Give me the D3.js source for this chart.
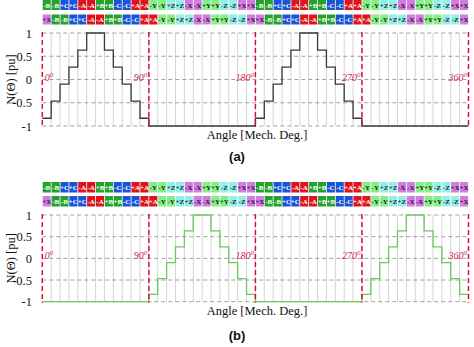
<!DOCTYPE html>
<html><head><meta charset="utf-8">
<script src="https://cdn.jsdelivr.net/npm/d3@7"></script>
<style>html,body{margin:0;padding:0;background:#fff;}svg{display:block;}</style>
</head><body>
<script>
// ---- data ----
const coilRow1 = ["-B","-B","+C","+C","-A","-A","+B","+B","-C","-C","+A","+A","-Y","-Y","+Z","+Z","-X","-X","+Y","+Y","-Z","-Z","+X","+X",
                  "-B","-B","+C","+C","-A","-A","+B","+B","-C","-C","+A","+A","-Y","-Y","+Z","+Z","-X","-X","+Y","+Y","-Z","-Z","+X","+X"];
const coilRow2 = ["+X","-B","-B","+C","+C","-A","-A","+B","+B","-C","-C","+A","+A","-Y","-Y","+Z","+Z","-X","-X","+Y","+Y","-Z","-Z","+X",
                  "+X","-B","-B","+C","+C","-A","-A","+B","+B","-C","-C","+A","+A","-Y","-Y","+Z","+Z","-X","-X","+Y","+Y","-Z","-Z","+X"];
const windingA = [-0.833,-0.467,-0.1,0.267,0.633,1,1,0.633,0.267,-0.1,-0.467,-0.833,
                  -1,-1,-1,-1,-1,-1,-1,-1,-1,-1,-1,-1,
                  -0.833,-0.467,-0.1,0.267,0.633,1,1,0.633,0.267,-0.1,-0.467,-0.833,
                  -1,-1,-1,-1,-1,-1,-1,-1,-1,-1,-1,-1];
const windingB = [-1,-1,-1,-1,-1,-1,-1,-1,-1,-1,-1,-1,
                  -0.833,-0.467,-0.1,0.267,0.633,1,1,0.633,0.267,-0.1,-0.467,-0.833,
                  -1,-1,-1,-1,-1,-1,-1,-1,-1,-1,-1,-1,
                  -0.833,-0.467,-0.1,0.267,0.633,1,1,0.633,0.267,-0.1,-0.467,-0.833];
const yTicks = [1,0.5,0,-0.5,-1];
const angleMarks = [0,90,180,270,360];
const angleLabels = ["0","90","180","270","360"];
const panelLabels = ["(a)","(b)"];
const yTitle = "N(\u0398) [pu]";
const xTitle = "Angle [Mech. Deg.]";

const phaseColor = {A:"#dc141c", B:"#24a22c", C:"#1a55d6", X:"#d47ae4", Y:"#84f084", Z:"#92f0e8"};
const phaseText = {A:"#fff", B:"#fff", C:"#fff", X:"#222", Y:"#222", Z:"#222"};

const W = 474, H = 347;
const svg = d3.select("body").append("svg").attr("width", W).attr("height", H);

const x = d3.scaleLinear().domain([0, 48]).range([42.3, 468.5]);
const xDeg = d3.scaleLinear().domain([0, 360]).range([42.3, 468.5]);
const slotW = x(1) - x(0);

function panel(cfg) {
  const g = svg.append("g");
  const y = d3.scaleLinear().domain([-1, 1]).range([cfg.bottom, cfg.top]);

  // coil rows
  [[coilRow1, cfg.row1], [coilRow2, cfg.row2]].forEach(([row, ry]) => {
    const cells = g.append("g").selectAll("g").data(row).join("g")
      .attr("transform", (d, i) => `translate(${x(i)},${ry})`);
    cells.append("rect").attr("x", 0.4).attr("y", 0).attr("width", slotW - 0.8).attr("height", cfg.rowH)
      .attr("fill", d => phaseColor[d[1]]);
    cells.append("text").attr("x", slotW / 2).attr("y", cfg.rowH / 2 + 2.5)
      .attr("text-anchor", "middle").attr("font-family", "Liberation Serif, serif")
      .attr("font-weight", "bold").attr("font-size", 7).attr("fill", d => phaseText[d[1]])
      .text(d => d);
  });

  // vertical slot gridlines
  g.append("g").selectAll("line").data(d3.range(1, 48)).join("line")
    .attr("x1", d => x(d)).attr("x2", d => x(d)).attr("y1", y(1)).attr("y2", y(-1))
    .attr("stroke", "#cfcfcf").attr("stroke-width", 0.9);

  // horizontal dashed gridlines
  g.append("g").selectAll("line").data(yTicks).join("line")
    .attr("x1", x(0)).attr("x2", x(48)).attr("y1", d => y(d)).attr("y2", d => y(d))
    .attr("stroke", "#8a8a8a").attr("stroke-width", 0.8).attr("stroke-dasharray", "4,3");

  // y axis labels
  const ax = g.append("g").attr("transform", `translate(32,0)`)
    .call(d3.axisLeft(y).tickValues(yTicks).tickSize(0).tickPadding(0).tickFormat(d => String(d)));
  ax.select(".domain").remove();
  ax.selectAll("text").attr("font-family", "Liberation Serif, serif").attr("font-size", 12.5).attr("fill", "#111");

  // y title
  g.append("text").attr("transform", `translate(15,${(cfg.top + cfg.bottom) / 2}) rotate(-90)`)
    .attr("text-anchor", "middle").attr("font-family", "Liberation Serif, serif").attr("font-size", 12.5)
    .attr("fill", "#111").text(yTitle);

  // step line
  const pts = cfg.values.map((v, i) => [i, v]);
  pts.push([48, cfg.values[47]]);
  g.append("path").datum(pts)
    .attr("d", d3.line().x(d => x(d[0])).y(d => y(d[1])).curve(d3.curveStepAfter))
    .attr("fill", "none").attr("stroke", cfg.lineColor).attr("stroke-width", 1.3);

  // red dashed angle markers
  g.append("g").selectAll("line").data(angleMarks).join("line")
    .attr("x1", d => xDeg(d)).attr("x2", d => xDeg(d)).attr("y1", y(1) - 1).attr("y2", y(-1) + 1)
    .attr("stroke", "#dc1030").attr("stroke-width", 1.5).attr("stroke-dasharray", "5,3");

  // angle labels
  const lab = g.append("g").selectAll("text").data(angleMarks).join("text")
    .attr("x", (d, i) => i === 0 ? xDeg(d) + 2.5 : xDeg(d) - 1.5)
    .attr("y", y(0) + 1)
    .attr("text-anchor", (d, i) => i === 0 ? "start" : "end")
    .attr("font-family", "Liberation Serif, serif").attr("font-style", "italic")
    .attr("font-size", 10).attr("fill", "#d0285a");
  lab.append("tspan").text((d, i) => angleLabels[i]);
  lab.append("tspan").attr("dy", -4).attr("font-size", 7).text("0");

  // x title
  g.append("text").attr("x", 257).attr("y", cfg.xTitleY).attr("text-anchor", "middle")
    .attr("font-family", "Liberation Serif, serif").attr("font-size", 12.5).attr("fill", "#111").text(xTitle);

  // panel label
  g.append("text").attr("x", 237).attr("y", cfg.labelY).attr("text-anchor", "middle")
    .attr("font-family", "Liberation Sans, Arial, sans-serif").attr("font-weight", "bold")
    .attr("font-size", 13).attr("fill", "#111").text(cfg.label);
}

panel({row1: 0, row2: 14.5, rowH: 10, top: 33, bottom: 126, values: windingA, lineColor: "#3a3a3a",
       xTitleY: 139, labelY: 161, label: panelLabels[0]});
panel({row1: 182, row2: 196, rowH: 10.5, top: 215, bottom: 301.7, values: windingB, lineColor: "#6cc862",
       xTitleY: 315, labelY: 340, label: panelLabels[1]});
</script>
</body></html>
